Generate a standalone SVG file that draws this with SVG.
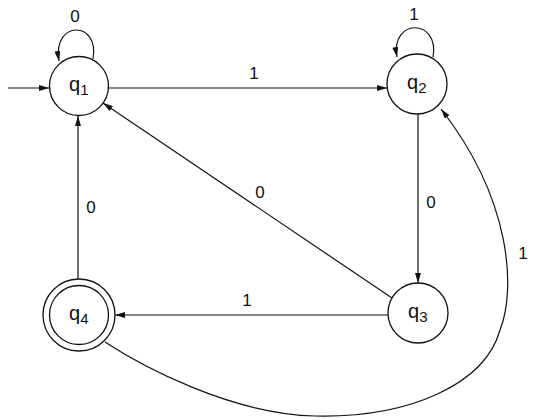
<svg xmlns="http://www.w3.org/2000/svg" width="548" height="420" viewBox="0 0 548 420">
<defs>
<marker id="arr" viewBox="0 0 10 6" refX="10" refY="3" markerWidth="10" markerHeight="6" markerUnits="userSpaceOnUse" orient="auto">
<path d="M0,0 L10,3 L0,6 Z" fill="#111"/>
</marker>
<style>
.st{fill:#fff;stroke:#111;stroke-width:1.3}
.e{fill:none;stroke:#111;stroke-width:1.2;marker-end:url(#arr)}
.lb{font-family:"Liberation Sans",Arial,sans-serif;font-size:17px;fill:#111;text-anchor:middle}
.nm{font-family:"Liberation Sans",Arial,sans-serif;font-size:20px;fill:#111}
.sb{font-size:15px}
</style>
</defs>
<rect width="548" height="420" fill="#fff"/>
<g id="connectors">
<path class="e" d="M8,88 L49,88"/>
<path class="e" d="M93,59 C100,20 52,20 59,61"/>
<path class="e" d="M433,57 C440,18 390,18 397,57"/>
<path class="e" d="M108,88 L387,88"/>
<path class="e" d="M418,114 L418,283"/>
<path class="e" d="M392,298 L103,103"/>
<path class="e" d="M388,315 L115,315"/>
<path class="e" d="M78,280 L78,116"/>
<path class="e" d="M105,342 C140,365 230,414 315,416 C410,418 485,384 500,330 C516,290 512,200 441,109"/>
<text class="lb" x="75" y="22">0</text>
<text class="lb" x="414" y="20">1</text>
<text class="lb" x="254" y="79">1</text>
<text class="lb" x="431" y="208">0</text>
<text class="lb" x="260" y="198">0</text>
<text class="lb" x="247" y="306">1</text>
<text class="lb" x="91" y="213">0</text>
<text class="lb" x="523" y="259">1</text>
</g>
<g id="q1">
<circle class="st" cx="79" cy="86" r="29.5"/>
<text class="nm" x="69" y="91">q<tspan class="sb" dy="4">1</tspan></text>
</g>
<g id="q2">
<circle class="st" cx="417" cy="84" r="30"/>
<text class="nm" x="407" y="89">q<tspan class="sb" dy="4">2</tspan></text>
</g>
<g id="q3">
<circle class="st" cx="418" cy="313" r="30"/>
<text class="nm" x="408" y="318">q<tspan class="sb" dy="4">3</tspan></text>
</g>
<g id="q4">
<circle class="st" cx="79" cy="315" r="36"/>
<circle class="st" cx="79" cy="315" r="29.5"/>
<text class="nm" x="69" y="320">q<tspan class="sb" dy="4">4</tspan></text>
</g>
</svg>
